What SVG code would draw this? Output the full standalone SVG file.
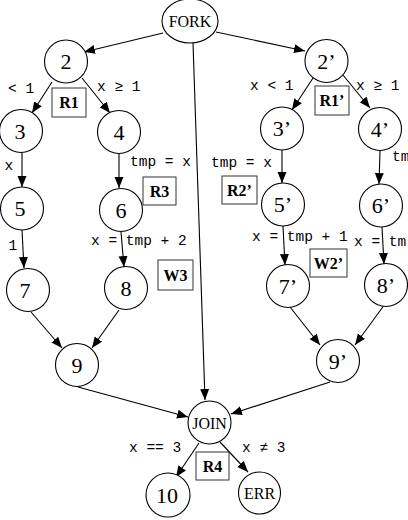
<svg xmlns="http://www.w3.org/2000/svg" width="408" height="520" viewBox="0 0 408 520">
<defs>
<marker id="ah" markerUnits="userSpaceOnUse" markerWidth="12" markerHeight="10" refX="11" refY="4.5" orient="auto">
<path d="M0,0 L11,4.5 L0,9 Z" fill="#000"/>
</marker>
<style>
.n{fill:#fff;stroke:#000;stroke-width:1.1}
.t{font-family:"Liberation Serif","DejaVu Serif",serif;font-size:22px;text-anchor:middle;fill:#000}
.s{font-family:"Liberation Serif","DejaVu Serif",serif;font-size:16px;text-anchor:middle;fill:#000}
.e{stroke:#000;stroke-width:1.1;fill:none;marker-end:url(#ah)}
.l{font-family:"Liberation Mono","DejaVu Sans Mono",monospace;font-size:14.5px;fill:#000}
.b{fill:#fff;stroke:#333;stroke-width:1}
.bt{font-family:"Liberation Serif","DejaVu Serif",serif;font-size:16px;font-weight:bold;text-anchor:middle;fill:#000}
</style>
</defs>
<rect width="408" height="520" fill="#fff"/>
<g id="edges">
<line class="e" x1="163" y1="33" x2="84" y2="52"/>
<line class="e" x1="216" y1="32" x2="305" y2="51"/>
<line class="e" x1="193" y1="43" x2="205" y2="400"/>
<line class="e" x1="52" y1="82" x2="32" y2="113"/>
<line class="e" x1="82" y1="78" x2="110" y2="113"/>
<line class="e" x1="22" y1="152" x2="22" y2="187"/>
<line class="e" x1="22" y1="230" x2="24" y2="268"/>
<line class="e" x1="119" y1="154" x2="119" y2="188"/>
<line class="e" x1="121" y1="232" x2="124" y2="267"/>
<line class="e" x1="31" y1="312" x2="62" y2="348"/>
<line class="e" x1="119" y1="310" x2="92" y2="348"/>
<line class="e" x1="78" y1="387" x2="188" y2="417"/>
<line class="e" x1="330" y1="382" x2="231" y2="414"/>
<line class="e" x1="199" y1="443" x2="176" y2="477"/>
<line class="e" x1="220" y1="442" x2="248" y2="472"/>
<line class="e" x1="313" y1="78" x2="292" y2="110"/>
<line class="e" x1="343" y1="75" x2="370" y2="108"/>
<line class="e" x1="282" y1="150" x2="282" y2="183"/>
<line class="e" x1="380" y1="151" x2="379" y2="184"/>
<line class="e" x1="283" y1="226" x2="285" y2="265"/>
<line class="e" x1="382" y1="227" x2="384" y2="264"/>
<line class="e" x1="290" y1="307" x2="320" y2="345"/>
<line class="e" x1="385" y1="304" x2="355" y2="345"/>
</g>
<g id="FORK"><ellipse class="n" cx="190" cy="21" rx="28" ry="22"/><text class="s" x="190" y="27">FORK</text></g>
<g id="n2"><circle class="n" cx="66" cy="61.5" r="21.5"/><text class="t" x="66" y="69">2</text></g>
<g id="n3"><circle class="n" cx="21" cy="131" r="21.5"/><text class="t" x="20" y="138.5">3</text></g>
<g id="n4"><circle class="n" cx="119" cy="132" r="21.5"/><text class="t" x="119" y="139.5">4</text></g>
<g id="n5"><circle class="n" cx="22" cy="208.5" r="21.5"/><text class="t" x="20" y="216">5</text></g>
<g id="n6"><circle class="n" cx="121" cy="210" r="21.5"/><text class="t" x="121" y="217.5">6</text></g>
<g id="n7"><circle class="n" cx="28" cy="290" r="21.5"/><text class="t" x="25" y="297.5">7</text></g>
<g id="n8"><circle class="n" cx="126" cy="288" r="21.5"/><text class="t" x="126" y="295.5">8</text></g>
<g id="n9"><circle class="n" cx="77" cy="365" r="21.5"/><text class="t" x="77" y="372.5">9</text></g>
<g id="JOIN"><circle class="n" cx="209.5" cy="422.5" r="21.5"/><text class="s" x="209.5" y="428.5">JOIN</text></g>
<g id="n10"><circle class="n" cx="168" cy="495" r="22"/><text class="t" x="167" y="502.5">10</text></g>
<g id="ERR"><circle class="n" cx="259.5" cy="493" r="21"/><text class="s" x="259.5" y="499">ERR</text></g>
<g id="n2p"><circle class="n" cx="326.5" cy="61" r="21.5"/><text class="t" x="326.5" y="68.5">2’</text></g>
<g id="n3p"><circle class="n" cx="282" cy="128.5" r="21.5"/><text class="t" x="282" y="136">3’</text></g>
<g id="n4p"><circle class="n" cx="380" cy="129" r="21.5"/><text class="t" x="380" y="136.5">4’</text></g>
<g id="n5p"><circle class="n" cx="283" cy="204.5" r="21.5"/><text class="t" x="283" y="212">5’</text></g>
<g id="n6p"><circle class="n" cx="381" cy="205.5" r="21.5"/><text class="t" x="381" y="213">6’</text></g>
<g id="n7p"><circle class="n" cx="288" cy="286" r="21.5"/><text class="t" x="288" y="293.5">7’</text></g>
<g id="n8p"><circle class="n" cx="386" cy="285" r="21.5"/><text class="t" x="386" y="292.5">8’</text></g>
<g id="n9p"><circle class="n" cx="338" cy="361" r="21.5"/><text class="t" x="338" y="368.5">9’</text></g>
<g id="boxes">
<rect class="b" x="52" y="88" width="34" height="29"/><text class="bt" x="69" y="108">R1</text>
<rect class="b" x="315" y="86" width="34" height="29"/><text class="bt" x="332" y="106">R1’</text>
<rect class="b" x="143" y="177" width="33" height="28"/><text class="bt" x="159.5" y="196.5">R3</text>
<rect class="b" x="158" y="260" width="35" height="30"/><text class="bt" x="175.5" y="280.5">W3</text>
<rect class="b" x="222" y="176" width="35" height="28"/><text class="bt" x="239.5" y="195.5">R2’</text>
<rect class="b" x="310" y="249" width="37" height="28"/><text class="bt" x="328.5" y="268.5">W2’</text>
<rect class="b" x="196" y="452" width="33" height="28"/><text class="bt" x="212.5" y="471.5">R4</text>
</g>
<g id="labels">
<text class="l" x="8" y="93">&lt; 1</text>
<text class="l" x="97" y="91">x ≥ 1</text>
<text class="l" x="4.5" y="170">x</text>
<text class="l" x="130" y="166">tmp = x</text>
<text class="l" x="8.5" y="250">1</text>
<text class="l" x="91" y="245">x = tmp + 2</text>
<text class="l" x="250" y="90">x &lt; 1</text>
<text class="l" x="356" y="90">x ≥ 1</text>
<text class="l" x="211" y="167">tmp = x</text>
<text class="l" x="392" y="161">tm</text>
<text class="l" x="252" y="241">x = tmp + 1</text>
<text class="l" x="354" y="246">x = tm</text>
<text class="l" x="129" y="452">x == 3</text>
<text class="l" x="242" y="452">x ≠ 3</text>
</g>
</svg>
